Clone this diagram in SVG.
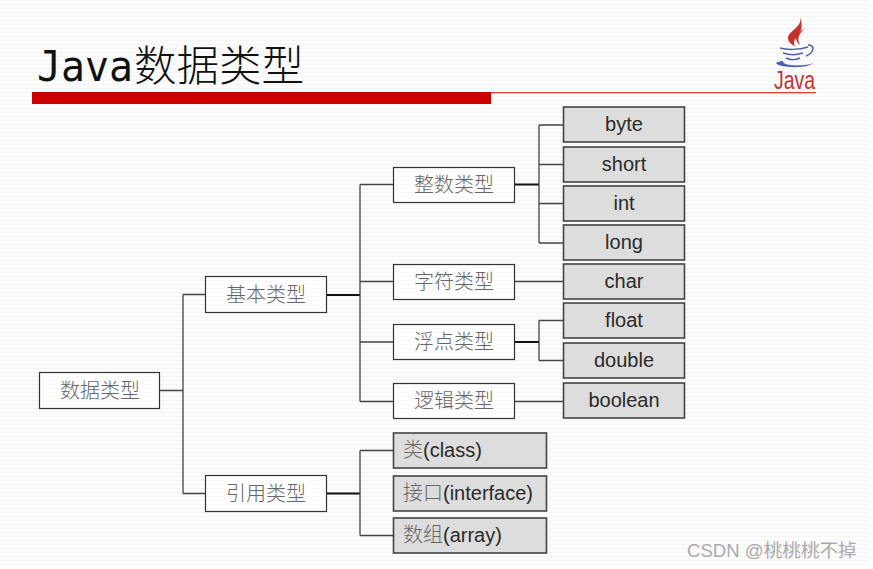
<svg xmlns="http://www.w3.org/2000/svg" width="873" height="569" viewBox="0 0 873 569">
<style>
.n{fill:#fff;fill-opacity:.55;stroke:#333;stroke-width:1.2}
.g{fill:#ddd;stroke:#444;stroke-width:1.6}
.c{font:20px "Noto Sans CJK SC","Liberation Sans",sans-serif;font-weight:300;fill:#666;text-anchor:middle}
.e{font:20px "Liberation Sans","Noto Sans CJK SC",sans-serif;fill:#2a2a2a;text-anchor:middle}
.m{font:20px "Liberation Sans","Noto Sans CJK SC",sans-serif;fill:#2a2a2a}
.m tspan{font-family:"Noto Sans CJK SC",sans-serif;font-weight:300;fill:#666}
#connectors path{fill:none;stroke:#444;stroke-width:1.3}
#connectors path.b{stroke:#111;stroke-width:1.8}
</style>
<defs>
<pattern id="st" width="4" height="4" patternUnits="userSpaceOnUse"><rect width="4" height="4" fill="#fcfcfc"/><rect width="4" height="1" fill="#f5f5f5"/></pattern>
</defs>
<rect width="873" height="569" fill="#fff"/>
<rect width="869" height="566" fill="url(#st)"/>
<g id="title">
<text x="37" y="81" font-family="DejaVu Sans Mono, Liberation Mono, monospace" font-size="42" fill="#111" textLength="96" lengthAdjust="spacingAndGlyphs">Java</text>
<text x="134" y="81" font-family="Noto Sans CJK SC, sans-serif" font-weight="300" font-size="42.500" fill="#111">数据类型</text>
<rect x="32" y="92" width="459" height="12" fill="#c00"/>
<rect x="491" y="92" width="325" height="1.300" fill="#d9403f"/>
</g>
<g id="logo" fill="none">
<path d="M800 17C803 27 788 31 788 38C788 42 792 45 795 46C791 41 799 36 801 30C802 26 802 21 800 17Z" fill="#c4332f"/>
<path d="M805 28C801 31 795 34 796 39C797 42 798 44 800 45C798 41 798 39 799 36C800 33 803 30 805 28Z" fill="#c4332f"/>
<path d="M780 48C786 50 799 50 808 47M808 45C815 45 815 52 806 56M783 53C789 55 797 55 803 53M786 58C790 60 796 60 800 58" stroke="#4f5fa8" stroke-width="1.500"/>
<path d="M776 63C778 68 808 69 813 63C808 66 782 67 783 61C780 61 777 62 776 63Z" fill="#4f5fa8"/>
<text x="774" y="89" font-family="Liberation Sans, sans-serif" font-size="26" fill="#c4332f" textLength="41" lengthAdjust="spacingAndGlyphs">Java</text>
</g>
<g id="connectors">
<path d="M160 390.500H183M183 294.500V493.500M183 294.500H205M183 493.500H205"/>
<path class="b" d="M327 295H360M327 493.500H360"/>
<path d="M360 184.500V401.500M360 184.500H393M360 281.500H393M360 342H393M360 401.500H393"/>
<path class="b" d="M515 184.500H539M515 342H539"/>
<path d="M539 125V243M539 125H563M539 164.500H563M539 203.500H563M539 243H563"/>
<path d="M515 281.500H563M515 401.500H563"/>
<path d="M539 320.500V360.500M539 320.500H563M539 360.500H563"/>
<path d="M360 450.500V535.500M360 450.500H393M360 535.500H393"/>
</g>
<g id="n-data"><rect class="n" x="39.500" y="372.500" width="120" height="36"/><text class="c" x="100" y="398">数据类型</text></g>
<g id="n-basic"><rect class="n" x="205.500" y="276.500" width="121" height="36"/><text class="c" x="266" y="302">基本类型</text></g>
<g id="n-ref"><rect class="n" x="205.500" y="475.500" width="121" height="36"/><text class="c" x="266" y="501">引用类型</text></g>
<g id="n-int"><rect class="n" x="393.500" y="167.500" width="121" height="35"/><text class="c" x="454" y="192">整数类型</text></g>
<g id="n-char"><rect class="n" x="393.500" y="264.500" width="121" height="35"/><text class="c" x="454" y="289">字符类型</text></g>
<g id="n-float"><rect class="n" x="393.500" y="324.500" width="121" height="35"/><text class="c" x="454" y="349">浮点类型</text></g>
<g id="n-logic"><rect class="n" x="393.500" y="383.500" width="121" height="35"/><text class="c" x="454" y="408">逻辑类型</text></g>
<g id="n-byte"><rect class="g" x="563.500" y="107" width="121" height="35"/><text class="e" x="624" y="131">byte</text></g>
<g id="n-short"><rect class="g" x="563.500" y="147" width="121" height="35"/><text class="e" x="624" y="171">short</text></g>
<g id="n-i"><rect class="g" x="563.500" y="186" width="121" height="35"/><text class="e" x="624" y="210">int</text></g>
<g id="n-long"><rect class="g" x="563.500" y="225" width="121" height="35"/><text class="e" x="624" y="249">long</text></g>
<g id="n-c"><rect class="g" x="563.500" y="264" width="121" height="35"/><text class="e" x="624" y="288">char</text></g>
<g id="n-f"><rect class="g" x="563.500" y="303" width="121" height="35"/><text class="e" x="624" y="327">float</text></g>
<g id="n-d"><rect class="g" x="563.500" y="343" width="121" height="35"/><text class="e" x="624" y="367">double</text></g>
<g id="n-b"><rect class="g" x="563.500" y="383" width="121" height="35"/><text class="e" x="624" y="407">boolean</text></g>
<g id="n-class"><rect class="g" x="393.500" y="433" width="153" height="35"/><text class="m" x="403" y="457"><tspan>类</tspan>(class)</text></g>
<g id="n-iface"><rect class="g" x="393.500" y="476" width="153" height="35"/><text class="m" x="403" y="500"><tspan>接口</tspan>(interface)</text></g>
<g id="n-array"><rect class="g" x="393.500" y="518" width="153" height="35"/><text class="m" x="403" y="542"><tspan>数组</tspan>(array)</text></g>
<text x="687" y="557" font-family="Liberation Sans, Noto Sans CJK SC, sans-serif" font-size="18.600" fill="#aaa">CSDN @桃桃桃不掉</text>
</svg>
